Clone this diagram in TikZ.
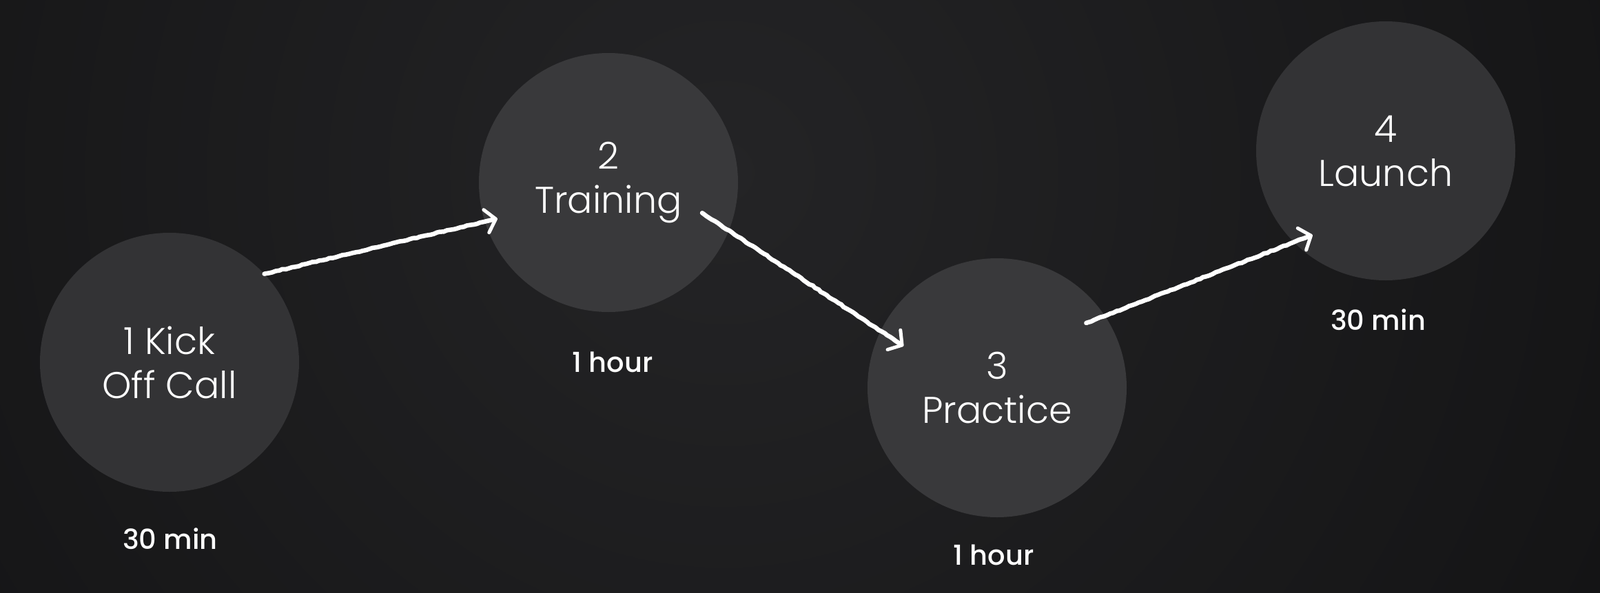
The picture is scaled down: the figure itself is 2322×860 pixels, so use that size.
\documentclass[tikz,border=0pt]{standalone}
\usepackage{fontspec}
\setmainfont{Poppins}[UprightFont=* Light, BoldFont=* Medium]
\usetikzlibrary{arrows.meta,calc,decorations.pathmorphing}
\definecolor{bgdark}{HTML}{131314}
\definecolor{bglight}{HTML}{242426}
\definecolor{disc}{HTML}{333335}
\definecolor{discB}{HTML}{39393B}
\tikzset{
  stepdisc/.style={circle, fill=disc, minimum size=376pt, inner sep=0pt, text=white, align=center,
    font=\fontsize{54}{64}\selectfont},
  durlabel/.style={text=white, font=\fontsize{40}{48}\selectfont\bfseries, inner sep=0pt},
  chalk/.style={white, line width=6.5pt, line cap=round,
    decorate, decoration={random steps, segment length=5pt, amplitude=0.7pt, pre length=2pt, post length=14pt},
    -{Straight Barb[length=14pt, width=34pt, line width=5pt, round]}}
}
\begin{document}
\begin{tikzpicture}[x=1pt,y=-1pt]
\useasboundingbox (0,0) rectangle (2322,860);
\fill[bgdark] (0,0) rectangle (2322,860);
\begin{scope}
\clip (0,0) rectangle (2322,860);
\shade[inner color=bglight, outer color=bgdark] (1050,250) circle (1500pt);
\end{scope}
\node[stepdisc] (c1) at (246,526) {1 Kick\\Off Call};
\node[stepdisc, fill=discB] (c2) at (883,265) {2\\Training};
\node[stepdisc, fill=disc!97!white] (c3) at (1447,563) {3\\Practice};
\node[stepdisc] (c4) at (2011,219) {4\\Launch};
\node[durlabel] (d1) at (247,782) {30 min};
\node[durlabel] (d2) at (889,526) {1 hour};
\node[durlabel] (d3) at (1442,806) {1 hour};
\node[durlabel] (d4) at (2000,464) {30 min};
\coordinate (a1s) at (c1.43.5);
\coordinate (a1e) at ($(c2.center)!0.9!(c2.198)$);
\coordinate (a2s) at ($(c2.center)!0.76!(c2.-18)$);
\coordinate (a2e) at ($(c3.center)!0.79!(c3.156.5)$);
\coordinate (a3s) at ($(c3.center)!0.85!(c3.36)$);
\coordinate (a3e) at ($(c4.center)!0.86!(c4.229.5)$);
\draw[chalk] (a1s) -- (a1e);
\draw[chalk] (a2s) -- (a2e);
\draw[chalk] (a3s) -- (a3e);
\end{tikzpicture}
\end{document}
